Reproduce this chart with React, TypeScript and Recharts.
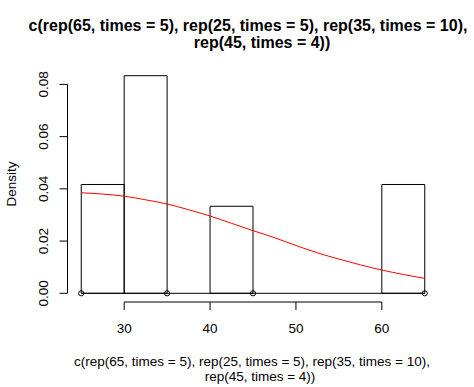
import React from 'react';
import {
  ComposedChart,
  Line,
  Scatter,
  XAxis,
  YAxis,
  ReferenceArea,
  ReferenceLine,
} from 'recharts';

// histogram bins (right-closed, R style) and their densities
const binEdges = [25, 30, 35, 40, 45, 50, 55, 60, 65];
const binDensity = [0.04167, 0.08333, 0, 0.03333, 0, 0, 0, 0.04167];

// red density curve
const curveX = [25, 27.5, 30, 32.5, 35, 37.5, 40, 42.5, 45, 47.5, 50, 52.5, 55, 57.5, 60, 62.5, 65];
const curveY = [0.0385, 0.038, 0.0372, 0.0358, 0.0342, 0.032, 0.0296, 0.0268, 0.024, 0.0213, 0.0183, 0.0155, 0.0131, 0.0109, 0.0089, 0.0072, 0.0057];

// rug points at y = 0
const rugX = [25, 35, 45, 65];

const xTicks = [30, 40, 50, 60];
const yTicks = [0, 0.02, 0.04, 0.06, 0.08];

const titleLines = ['c(rep(65, times = 5), rep(25, times = 5), rep(35, times = 10),', 'rep(45, times = 4))'];
const xLabelLines = ['c(rep(65, times = 5), rep(25, times = 5), rep(35, times = 10),', 'rep(45, times = 4))'];

const X_DOMAIN: [number, number] = [23.4, 66.6];
const Y_DOMAIN: [number, number] = [-0.003333, 0.086667];
const FONT = '"Liberation Sans", Arial, sans-serif';

const curveData = curveX.map((x, i) => ({ x, d: curveY[i] }));
const rugData = rugX.map((x) => ({ x, y: 0 }));
const bars = binDensity
  .map((d, i) => ({ x1: binEdges[i], x2: binEdges[i + 1], d }))
  .filter((b) => b.d > 0);

const XTick = (props: any) => {
  const { x, payload } = props;
  return (
    <text x={x} y={333} textAnchor="middle" fontSize={13.5} fontFamily={FONT} fill="#000">
      {payload.value}
    </text>
  );
};

const YTick = (props: any) => {
  const { y, payload } = props;
  return (
    <text
      x={48}
      y={y}
      textAnchor="middle"
      fontSize={13.5}
      fontFamily={FONT}
      fill="#000"
      transform={`rotate(-90, 48, ${y})`}
    >
      {payload.value.toFixed(2)}
    </text>
  );
};

const OpenCircle = (props: any) => {
  const { cx, cy } = props;
  return <circle cx={cx} cy={cy} r={2.6} fill="none" stroke="#000" strokeWidth={1} />;
};

const App: React.FC = () => {
  return (
    <div style={{ position: 'absolute', left: 0, top: 0, width: 474, height: 387, background: '#fff' }}>
      <ComposedChart width={474} height={387} margin={{ top: 67, right: 35.5, bottom: 0, left: 0 }}>
        <XAxis
          dataKey="x"
          type="number"
          domain={X_DOMAIN}
          allowDataOverflow
          ticks={xTicks}
          interval={0}
          axisLine={false}
          tickLine={{ stroke: '#000' }}
          tickSize={8}
          height={85}
          tick={<XTick />}
        />
        <YAxis
          type="number"
          domain={Y_DOMAIN}
          allowDataOverflow
          ticks={yTicks}
          interval={0}
          axisLine={false}
          tickLine={{ stroke: '#000' }}
          tickSize={8}
          width={67.5}
          tick={<YTick />}
        />
        {/* R-style detached axis lines */}
        <ReferenceLine
          segment={[{ x: xTicks[0], y: Y_DOMAIN[0] }, { x: xTicks[xTicks.length - 1], y: Y_DOMAIN[0] }]}
          stroke="#000"
          ifOverflow="visible"
        />
        <ReferenceLine
          segment={[{ x: X_DOMAIN[0], y: yTicks[0] }, { x: X_DOMAIN[0], y: yTicks[yTicks.length - 1] }]}
          stroke="#000"
          ifOverflow="visible"
        />
        {bars.map((b, i) => (
          <ReferenceArea
            key={i}
            x1={b.x1}
            x2={b.x2}
            y1={0}
            y2={b.d}
            fill="none"
            stroke="#000"
            strokeWidth={1}
            ifOverflow="visible"
          />
        ))}
        {/* empty bins show as a line along zero */}
        <ReferenceLine
          segment={[{ x: binEdges[0], y: 0 }, { x: binEdges[binEdges.length - 1], y: 0 }]}
          stroke="#000"
          ifOverflow="visible"
        />
        <Line
          data={curveData}
          dataKey="d"
          type="monotone"
          stroke="#ff0000"
          strokeWidth={1}
          dot={false}
          activeDot={false}
          isAnimationActive={false}
        />
        <Scatter data={rugData} dataKey="y" shape={<OpenCircle />} isAnimationActive={false} />
      </ComposedChart>
      <svg
        width={474}
        height={387}
        style={{ position: 'absolute', left: 0, top: 0, pointerEvents: 'none' }}
      >
        <text x={248} y={31} textAnchor="middle" fontSize={16} fontWeight="bold" fontFamily={FONT} fill="#000">
          {titleLines[0]}
        </text>
        <text x={262} y={48} textAnchor="middle" fontSize={16} fontWeight="bold" fontFamily={FONT} fill="#000">
          {titleLines[1]}
        </text>
        <text
          x={16}
          y={184}
          textAnchor="middle"
          fontSize={13.5}
          fontFamily={FONT}
          fill="#000"
          transform="rotate(-90, 16, 184)"
        >
          Density
        </text>
        <text x={252} y={366} textAnchor="middle" fontSize={13.5} fontFamily={FONT} fill="#000">
          {xLabelLines[0]}
        </text>
        <text x={260} y={381} textAnchor="middle" fontSize={13.5} fontFamily={FONT} fill="#000">
          {xLabelLines[1]}
        </text>
      </svg>
    </div>
  );
};

export default App;
